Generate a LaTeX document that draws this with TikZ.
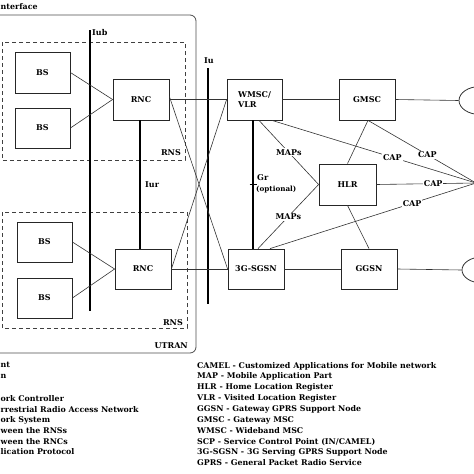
\documentclass[tikz,border=0pt]{standalone}
\usepackage{fontspec}
\setmainfont{DejaVu Serif}
\usetikzlibrary{shapes.geometric,calc}
\begin{document}
\begin{tikzpicture}[x=1pt,y=-1pt,
  every node/.style={font=\fontsize{8}{10}\selectfont\bfseries},
  box/.style={draw=black!85,line width=0.8pt,minimum width=#1,inner sep=0pt},
  box/.default=56pt,
  bar/.style={line width=1.6pt},
  thin/.style={line width=0.6pt,draw=black!80},
  lbl/.style={fill=white,inner sep=1pt},
  rnsbox/.style={dashed,dash pattern=on 4pt off 3pt,line width=0.7pt,draw=black!75},
  leg/.style={inner sep=0pt,font=\fontsize{7.9}{10}\selectfont\bfseries},
  legl/.style={leg,anchor=west},
  legr/.style={leg,anchor=west}]
\useasboundingbox (0,0) rectangle (474,474);
\clip (0,0) rectangle (474,474);
% UTRAN and RNS boxes
\draw[line width=0.8pt,draw=black!70,rounded corners=6pt] (-20,15) -- (196,15) -- (196,353) -- (-20,353);
\draw[rnsbox] (2,42) rectangle (185,160);
\draw[rnsbox] (2,212) rectangle (187,328);
\node[legl] (titl) at (0.5,7) {nterface};
\node[anchor=east,inner sep=0pt] (rns1) at (181,153) {RNS};
\node[anchor=east,inner sep=0pt] (rns2) at (183,323) {RNS};
\node[anchor=east,inner sep=0pt] (utran) at (188,346) {UTRAN};
% nodes
\node[box=55pt,minimum height=41pt] (BS1) at (42.5,72.5) {BS};
\node[box=55pt,minimum height=40pt] (BS2) at (42.5,128) {BS};
\node[box=55pt,minimum height=40pt] (BS3) at (44.5,242) {BS};
\node[box=55pt,minimum height=40pt] (BS4) at (44.5,298) {BS};
\node[box,minimum height=41pt] (RNC1) at (141,99.5) {RNC};
\node[box,minimum height=40pt] (RNC2) at (143,269) {RNC};
\node[box=55pt,minimum height=41pt,align=left] (WMSC) at (254.5,99.5) {WMSC/\\VLR};
\node[box,minimum height=41pt] (GMSC) at (367,99.5) {GMSC};
\node[box=57pt,minimum height=41pt] (HLR) at (347.5,184.5) {HLR};
\node[box,minimum height=40pt] (SGSN) at (256,269) {3G-SGSN};
\node[box,minimum height=40pt] (GGSN) at (369,269) {GGSN};
\node[draw=black!80,line width=0.8pt,ellipse,minimum width=42pt,minimum height=28pt] (E1) at (480,100.5) {};
\node[draw=black!80,line width=0.8pt,ellipse,minimum width=40pt,minimum height=26pt] (E2) at (482,270) {};
\coordinate (scp) at (476,183);
\coordinate (iubT) at (90,30);
\coordinate (iubB) at (90,311);
\coordinate (iuT) at (208,68);
\coordinate (iuB) at (208,304);
\coordinate (iurx) at (140,0);
\coordinate (grx) at (253,0);
% interfaces
\draw[bar] (iubT) -- (iubB);
\node[anchor=west,inner sep=0pt] (iub) at (92,33) {Iub};
\draw[bar] (iuT) -- (iuB);
\node[inner sep=0pt] (iu) at (209,61) {Iu};
\draw[bar] (RNC1.south -| iurx) -- (RNC2.north -| iurx);
\node[anchor=west,inner sep=0pt] (iur) at (145,185) {Iur};
\draw[bar] (WMSC.south -| grx) -- (SGSN.north -| grx);
\coordinate (grm1) at (249.5,184);
\coordinate (grm2) at (256.5,184);
\draw[line width=1pt] (grm1) -- (grm2);
\node[anchor=west,inner sep=0pt] (gr) at (257,178) {Gr};
\node[anchor=west,inner sep=0pt,font=\fontsize{7.2}{9}\selectfont\bfseries] (opt) at (256,190) {(optional)};
% BS - RNC
\draw[thin] (BS1.east) -- (RNC1.west);
\draw[thin] (BS2.east) -- (RNC1.west);
\draw[thin] (BS3.east) -- (RNC2.west);
\draw[thin] (BS4.east) -- (RNC2.west);
% RNC - core
\draw[thin] (RNC1.east) -- (WMSC.west);
\draw[thin] (RNC2.east) -- (SGSN.west);
\draw[thin] ([yshift=3pt]RNC1.east) -- (SGSN.west);
\draw[thin] (RNC2.east) -- (WMSC.west);
\draw[thin] (WMSC.east) -- (GMSC.west);
\draw[thin] (GMSC.east) -- (E1.west);
\draw[thin] (SGSN.east) -- (GGSN.west);
\draw[thin] (GGSN.east) -- (E2.west);
% MAP
\draw[thin] ([xshift=4.5pt]WMSC.south) -- node[lbl] (map1) {MAPs} (HLR.west);
\draw[thin] ([xshift=2pt]SGSN.north) -- node[lbl] (map2) {MAPs} (HLR.west);
\draw[thin] (HLR.north) -- ([xshift=1pt]GMSC.south);
\draw[thin] (HLR.south) -- (GGSN.north);
% CAP
\draw[thin] ([xshift=1pt]GMSC.south) -- node[lbl,pos=0.55] (cap1) {CAP} (scp);
\draw[thin] ([xshift=17.5pt]WMSC.south) -- node[lbl,pos=0.59] (cap2) {CAP} (scp);
\draw[thin] (HLR.east) -- node[lbl,pos=0.57] (cap3) {CAP} (scp);
\draw[thin] ([xshift=14pt]SGSN.north) -- node[lbl,pos=0.69] (cap4) {CAP} (scp);
% legend left
\node[legl] (l1) at (0.5,365) {nt};
\node[legl] (l2) at (0.5,376) {n};
\node[legl] (l3) at (0.5,399) {ork Controller};
\node[legl] (l4) at (0.5,409.5) {rrestrial Radio Access Network};
\node[legl] (l5) at (0.5,420) {ork System};
\node[legl] (l6) at (0.5,431) {ween the RNSs};
\node[legl] (l7) at (0.5,442) {ween the RNCs};
\node[legl] (l8) at (0.5,452) {lication Protocol};
% legend right
\node[legr] (r1) at (197,366) {CAMEL - Customized Applications for Mobile network};
\node[legr] (r2) at (197,376.5) {MAP - Mobile Application Part};
\node[legr] (r3) at (197,387.5) {HLR - Home Location Register};
\node[legr] (r4) at (197,398) {VLR - Visited Location Register};
\node[legr] (r5) at (197,409) {GGSN - Gateway GPRS Support Node};
\node[legr] (r6) at (197,420) {GMSC - Gateway MSC};
\node[legr] (r7) at (197,431) {WMSC - Wideband MSC};
\node[legr] (r8) at (197,442) {SCP - Service Control Point (IN/CAMEL)};
\node[legr] (r9) at (197,452.5) {3G-SGSN - 3G Serving GPRS Support Node};
\node[legr] (r10) at (197,463) {GPRS - General Packet Radio Service};
\end{tikzpicture}
\end{document}
